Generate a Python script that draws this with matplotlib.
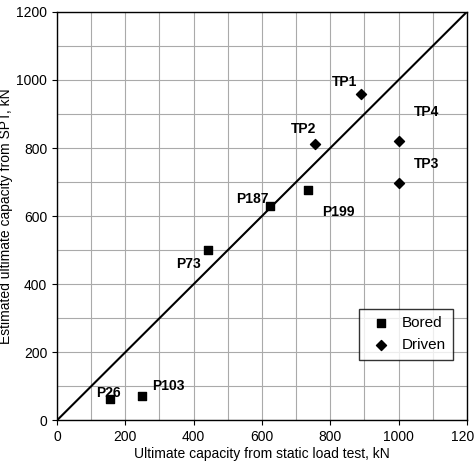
import matplotlib
matplotlib.use("Agg")
import matplotlib.pyplot as plt

bored_names = ["P26", "P103", "P73", "P187", "P199"]
bored_x = [155, 248, 443, 625, 735]
bored_y = [62, 72, 500, 630, 678]
driven_names = ["TP1", "TP2", "TP4", "TP3"]
driven_x = [890, 755, 1000, 1000]
driven_y = [958, 812, 820, 697]
label_off = {"P26": (-40, 20), "P103": (30, 30), "P73": (-95, -40), "P187": (-100, 20),
             "P199": (40, -65), "TP1": (-85, 35), "TP2": (-70, 45), "TP4": (45, 85), "TP3": (45, 55)}

plt.rcParams['font.family'] = ['Liberation Sans', 'DejaVu Sans']
fig = plt.figure(figsize=(4.74, 4.74), dpi=100)
ax = fig.add_axes([0.12, 0.113, 0.865, 0.862])
ax.plot([0, 1200], [0, 1200], color='black', lw=1.5)
ax.scatter(bored_x, bored_y, marker='s', s=36, color='black', label='Bored', zorder=3)
ax.scatter(driven_x, driven_y, marker='D', s=26, color='black', label='Driven', zorder=3)
for n, x, y in list(zip(bored_names, bored_x, bored_y)) + list(zip(driven_names, driven_x, driven_y)):
    dx, dy = label_off[n]
    ax.text(x + dx, y + dy, n, fontsize=10, fontweight='bold', ha='left', va='center')
ax.set_xlim(0, 1200); ax.set_ylim(0, 1200)
ax.set_xticks(range(0, 1201, 200)); ax.set_yticks(range(0, 1201, 200))
ax.set_xticks(range(0, 1201, 100), minor=True); ax.set_yticks(range(0, 1201, 100), minor=True)
ax.grid(True, which='both', color='#aaaaaa', lw=0.8)
ax.tick_params(which='minor', length=0)
ax.tick_params(labelsize=10)
ax.set_xlabel("Ultimate capacity from static load test, kN", fontsize=10, labelpad=2)
ax.set_ylabel("Estimated ultimate capacity from SPT, kN", fontsize=10, labelpad=2)
leg = ax.legend(loc='lower right', bbox_to_anchor=(0.985, 0.13), fontsize=11, frameon=True,
                fancybox=False, edgecolor='black', handletextpad=0.3, borderpad=0.5)
leg.get_frame().set_linewidth(1.0)
for s in ax.spines.values():
    s.set_linewidth(1.0)
fig.savefig("out.png", dpi=100)
